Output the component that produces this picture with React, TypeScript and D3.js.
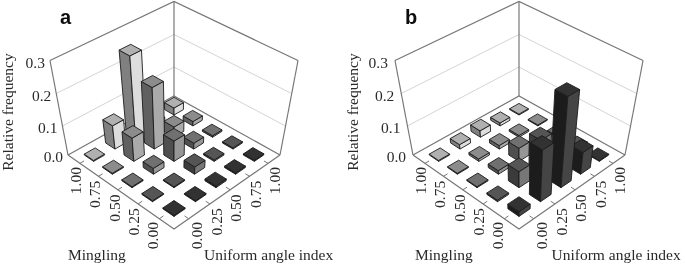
import React from 'react';
import * as d3 from 'd3';

const width = 685;
const height = 264;

const uniformTicks = ['0.00', '0.25', '0.50', '0.75', '1.00'];
const minglingTicks = ['0.00', '0.25', '0.50', '0.75', '1.00'];
const freqTicks = [0, 0.1, 0.2, 0.3];

// rows = mingling 0..1, columns = uniform angle index 0..1
const freqA = [
  [0.003, 0.003, 0.006, 0.005, 0.004],
  [0.003, 0.003, 0.025, 0.005, 0.004],
  [0.003, 0.02, 0.07, 0.02, 0.005],
  [0.003, 0.08, 0.2, 0.035, 0.015],
  [0.003, 0.08, 0.26, 0.01, 0.024],
];
const freqB = [
  [0.016, 0.17, 0.29, 0.075, 0.003],
  [0.005, 0.055, 0.115, 0.005, 0.003],
  [0.003, 0.012, 0.045, 0.005, 0.003],
  [0.003, 0.008, 0.012, 0.006, 0.003],
  [0.003, 0.015, 0.022, 0.01, 0.003],
];

const topShade = ['#333333', '#555555', '#707070', '#8c8c8c', '#b0b0b0'];
const leftShade = ['#1f1f1f', '#3a3a3a', '#505050', '#606060', '#808080'];
const rightShade = ['#444444', '#777777', '#969696', '#aaaaaa', '#dddddd'];

// floor diamond corners, panel coordinates
const front = [174, 229];
const right = [280, 155];
const left = [68, 155];
const back = [174, 96];
const g = (2 * right[1] - front[1] - back[1]) / (2 * back[1] - 2 * right[1]);

const cellCentre = d3.scaleLinear().domain([0, 4]).range([0.125, 0.875]);
const lift = d3.scaleLinear().domain(freqTicks).range([0, 29, 61.5, 94.5]);
const halfBar = 0.048;
const textSize = 15.5;

// perspective floor plus a height lift, verticals lean outward going up
function project(u: number, v: number, z = 0): [number, number] {
  const w = 1 + g * (u + v);
  const wSide = 1 + g;
  const x = (front[0] + u * (wSide * right[0] - front[0]) + v * (wSide * left[0] - front[0])) / w;
  const y = (front[1] + u * (wSide * right[1] - front[1]) + v * (wSide * left[1] - front[1])) / w;
  const h = lift(z);
  return [x + (x - front[0]) * (h / 94.5) * 0.17, y - h];
}

const poly = d3.line().curve(d3.curveLinearClosed);

const Panel = ({ data, label, dx, shift }: { data: number[][]; label: string; dx: number; shift: number[] }) => {
  const cells = data
    .flatMap((row, j) => row.map((val, i) => ({ i, j, val })))
    .sort((a, b) => b.i + b.j - (a.i + a.j));

  const frame = [
    [project(0, 1, 0.3), project(1, 1, 0.3), project(1, 0, 0.3)],
    [project(0, 1, 0), project(0, 1, 0.3)],
    [project(1, 0, 0), project(1, 0, 0.3)],
    [project(1, 1, 0), project(1, 1, 0.3)],
    [project(0, 1, 0), project(0, 0, 0), project(1, 0, 0)],
    [project(0, 1, 0), project(1, 1, 0), project(1, 0, 0)],
  ];
  const open = d3.line();

  return (
    <g transform={`translate(${dx},0)`}>
      {/* Wall gridlines */}
      {[0.1, 0.2].map(t => (
        <path
          key={t}
          d={open([project(0, 1, t), project(1, 1, t), project(1, 0, t)]) as string}
          fill="none"
          stroke="#d4d4d4"
          strokeWidth={1}
        />
      ))}
      {frame.map((pts, k) => (
        <path key={k} d={open(pts) as string} fill="none" stroke="#777" strokeWidth={1.2} />
      ))}

      {/* Ticks */}
      {d3.range(5).map(k => (
        <g key={k} stroke="#777" strokeWidth={1}>
          <path d={open([project(0, cellCentre(k)), project(0.035, cellCentre(k))]) as string} />
          <path d={open([project(cellCentre(k), 0), project(cellCentre(k), 0.035)]) as string} />
        </g>
      ))}

      {/* Bars, back to front */}
      {cells.map(({ i, j, val }) => {
        const u = cellCentre(i);
        const v = cellCentre(j);
        const u0 = u - halfBar;
        const u1 = u + halfBar;
        const v0 = v - halfBar;
        const v1 = v + halfBar;
        const common = { stroke: '#1c1c1c', strokeWidth: 0.9, strokeLinejoin: 'round' as const };
        return (
          <g key={`${i}-${j}`}>
            <path
              d={poly([project(u0, v1), project(u0, v0), project(u0, v0, val), project(u0, v1, val)]) as string}
              fill={leftShade[j]}
              {...common}
            />
            <path
              d={poly([project(u0, v0), project(u1, v0), project(u1, v0, val), project(u0, v0, val)]) as string}
              fill={rightShade[j]}
              {...common}
            />
            <path
              d={poly([project(u0, v0, val), project(u1, v0, val), project(u1, v1, val), project(u0, v1, val)]) as string}
              fill={topShade[j]}
              {...common}
            />
          </g>
        );
      })}

      {/* Frequency labels */}
      {freqTicks.map(t => {
        const [x, y] = project(0, 1, t);
        return (
          <text key={t} x={x - 5 + shift[0]} y={y + 7} fontSize={textSize} textAnchor="end" fill="#2a2a2a">
            {t.toFixed(1)}
          </text>
        );
      })}

      {/* Mingling labels */}
      {minglingTicks.map((t, k) => {
        const x = d3.scaleLinear().domain([0, 4]).range([158, 81])(k);
        const y = d3.scaleLinear().domain([0, 4]).range([222, 167])(k);
        return (
          <text key={t} transform={`translate(${x},${y}) rotate(-90)`} fontSize={textSize} textAnchor="end" fill="#2a2a2a">
            {t}
          </text>
        );
      })}

      {/* Uniform angle labels */}
      {uniformTicks.map((t, k) => {
        const x = d3.scaleLinear().domain([0, 4]).range([202, 280])(k);
        const y = d3.scaleLinear().domain([0, 4]).range([222, 167])(k);
        return (
          <text key={t} transform={`translate(${x},${y}) rotate(-90)`} fontSize={textSize} textAnchor="end" fill="#2a2a2a">
            {t}
          </text>
        );
      })}

      <text transform="translate(13,112) rotate(-90)" fontSize={textSize} textAnchor="middle" fill="#2a2a2a">
        Relative frequency
      </text>
      <text x={68 + shift[1]} y={260} fontSize={textSize} fill="#2a2a2a">Mingling</text>
      <text x={204 + shift[2]} y={260} fontSize={textSize} fill="#2a2a2a">Uniform angle index</text>
      <text x={60} y={24} fontSize="20" fontWeight="bold" fontFamily="Liberation Sans, Arial, sans-serif" fill="#111">
        {label}
      </text>
    </g>
  );
};

export default function App() {
  return (
    <svg
      width={width}
      height={height}
      fontFamily="Liberation Serif, Times New Roman, serif"
      style={{ position: 'absolute', left: 0, top: 0, background: '#fff' }}
    >
      {/* the reference is a soft scan */}
      <filter id="soft" x="0" y="0" width="100%" height="100%">
        <feGaussianBlur stdDeviation="0.35" />
      </filter>
      <g filter="url(#soft)">
        <rect width={width} height={height} fill="#fff" />
        <Panel data={freqA} label="a" dx={0} shift={[0, 0, 0]} />
        <Panel data={freqB} label="b" dx={345} shift={[-2, 2, 2.5]} />
      </g>
    </svg>
  );
}
